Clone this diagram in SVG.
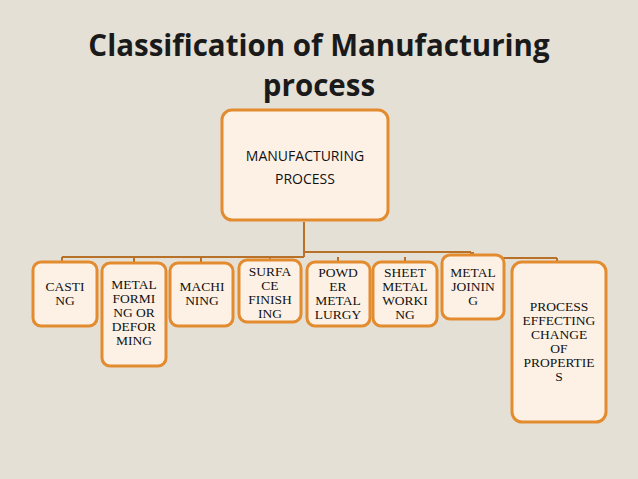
<svg xmlns="http://www.w3.org/2000/svg" width="638" height="479" viewBox="0 0 638 479">
<style>
.box{fill:#fdf1e6;stroke:#e38b2f;stroke-width:3}
.c{stroke:#b87128;stroke-width:2;fill:none}
</style>
<rect width="638" height="479" fill="#e4e0d6"/>
<g id="title" font-family="'Open Sans','DejaVu Sans',sans-serif" font-weight="bold" font-size="29.5" fill="#1a1a1a" text-anchor="middle">
<text x="319" y="56">Classification of Manufacturing</text>
<text x="319" y="96">process</text>
</g>
<g id="connectors" class="c">
<path d="M304 222V252M304 252H471M304 252V257M62 257H304M471 252V258H557M62 257V262M134 257V263M201 257V263M270 257V260M338 257V262M405 257V262M473 252V255M557 258V262"/>
</g>
<g id="root"><rect class="box" x="222" y="110" width="166" height="110" rx="10"/><text font-family="'Open Sans',sans-serif" font-size="14" text-anchor="middle" fill="#111"><tspan x="305" y="161">MANUFACTURING</tspan><tspan x="305" y="184">PROCESS</tspan></text></g>
<g font-family="'Liberation Serif','Times New Roman',serif" font-size="13.5" fill="#111" text-anchor="middle">
<g id="casting"><rect class="box" x="33" y="262" width="64" height="64" rx="8"/><text><tspan x="65" y="291">CASTI</tspan><tspan x="65" y="305">NG</tspan></text></g>
<g id="forming"><rect class="box" x="102" y="263" width="64" height="103" rx="8"/><text><tspan x="134" y="289">METAL</tspan><tspan x="134" y="303">FORMI</tspan><tspan x="134" y="317">NG OR</tspan><tspan x="134" y="331">DEFOR</tspan><tspan x="134" y="345">MING</tspan></text></g>
<g id="machining"><rect class="box" x="170" y="263" width="63" height="63" rx="8"/><text><tspan x="202" y="291">MACHI</tspan><tspan x="202" y="305">NING</tspan></text></g>
<g id="surface"><rect class="box" x="239" y="260" width="62" height="62" rx="8"/><text><tspan x="270" y="276">SURFA</tspan><tspan x="270" y="290">CE</tspan><tspan x="270" y="304">FINISH</tspan><tspan x="270" y="318">ING</tspan></text></g>
<g id="powder"><rect class="box" x="307" y="262" width="63" height="64" rx="8"/><text><tspan x="338" y="277">POWD</tspan><tspan x="338" y="291">ER</tspan><tspan x="338" y="305">METAL</tspan><tspan x="338" y="319">LURGY</tspan></text></g>
<g id="sheet"><rect class="box" x="373" y="262" width="64" height="64" rx="8"/><text><tspan x="405" y="277">SHEET</tspan><tspan x="405" y="291">METAL</tspan><tspan x="405" y="305">WORKI</tspan><tspan x="405" y="319">NG</tspan></text></g>
<g id="joining"><rect class="box" x="442" y="255" width="62" height="64" rx="8"/><text><tspan x="473" y="277">METAL</tspan><tspan x="473" y="291">JOININ</tspan><tspan x="473" y="305">G</tspan></text></g>
<g id="properties"><rect class="box" x="512" y="262" width="94" height="160" rx="10"/><text><tspan x="559" y="311">PROCESS</tspan><tspan x="559" y="325">EFFECTING</tspan><tspan x="559" y="339">CHANGE</tspan><tspan x="559" y="353">OF</tspan><tspan x="559" y="367">PROPERTIE</tspan><tspan x="559" y="381">S</tspan></text></g>
</g>
</svg>
